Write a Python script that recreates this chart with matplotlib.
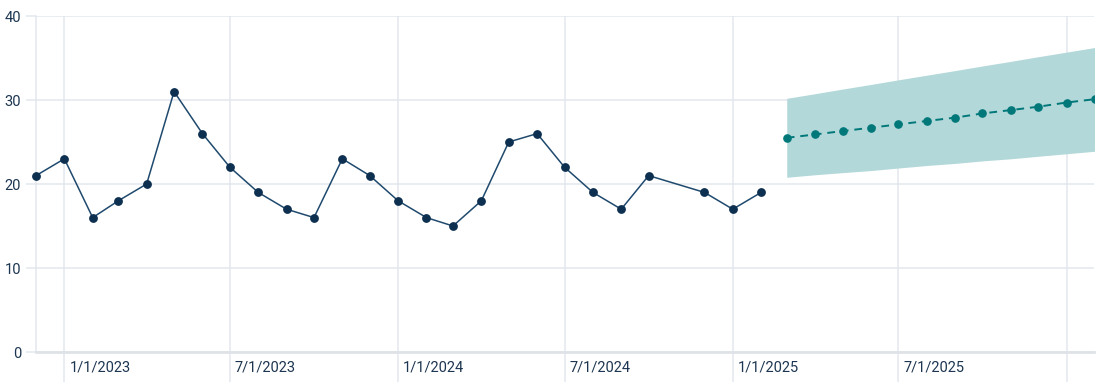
import matplotlib
matplotlib.use("Agg")
import matplotlib.pyplot as plt
import matplotlib.transforms as mtransforms
import pandas as pd

plt.rcParams['font.family'] = ['Roboto', 'DejaVu Sans']

hist_dates = ["2022-12-01", "2023-01-01", "2023-02-01", "2023-03-01", "2023-04-01",
              "2023-05-01", "2023-06-01", "2023-07-01", "2023-08-01", "2023-09-01",
              "2023-10-01", "2023-11-01", "2023-12-01", "2024-01-01", "2024-02-01",
              "2024-03-01", "2024-04-01", "2024-05-01", "2024-06-01", "2024-07-01",
              "2024-08-01", "2024-09-01", "2024-10-01", "2024-12-01", "2025-01-01",
              "2025-02-01"]
hist_values = [21, 23, 16, 18, 20, 31, 26, 22, 19, 17, 16, 23, 21, 18, 16, 15, 18,
               25, 26, 22, 19, 17, 21, 19, 17, 19]

fc_dates = ["2025-03-01", "2025-04-01", "2025-05-01", "2025-06-01", "2025-07-01",
            "2025-08-01", "2025-09-01", "2025-10-01", "2025-11-01", "2025-12-01",
            "2026-01-01", "2026-02-01"]
fc_values = [25.5, 25.9, 26.3, 26.7, 27.1, 27.5, 27.9, 28.4, 28.8, 29.2, 29.7, 30.1]
fc_upper = [30.2, 30.75, 31.3, 31.85, 32.4, 32.95, 33.5, 34.05, 34.6, 35.15, 35.7, 36.25]
fc_lower = [20.8, 21.1, 21.35, 21.6, 21.9, 22.2, 22.45, 22.75, 23.0, 23.3, 23.6, 23.9]

xtick_dates = ["2023-01-01", "2023-07-01", "2024-01-01", "2024-07-01", "2025-01-01",
               "2025-07-01", "2026-01-01"]
xtick_labels = ["1/1/2023", "7/1/2023", "1/1/2024", "7/1/2024", "1/1/2025",
                "7/1/2025", ""]
yticks = [0, 10, 20, 30, 40]

W, H, DPI = 1113, 387, 100
fig = plt.figure(figsize=(W / DPI, H / DPI), dpi=DPI)
ax = fig.add_axes([36 / W, 1 - 352 / H, (1094 - 36) / W, (352 - 16) / H])

grid_c = '#e3e7ec'
text_c = '#1c3550'
line_c = '#1f4a6e'
teal = '#00787a'

hd = pd.to_datetime(hist_dates)
fd = pd.to_datetime(fc_dates)

ax.fill_between(fd, fc_lower, fc_upper, color='#b3d8d9', linewidth=0, zorder=2)
ax.plot(fd, fc_values, color=teal, linestyle=(0, (4, 3)), linewidth=1.4,
        marker='o', markersize=5.2, zorder=3)
ax.plot(hd, hist_values, color=line_c, linewidth=1.1, marker='o', markersize=5.3,
        markerfacecolor='#0d2f50', markeredgecolor='#0d2f50', zorder=4, clip_on=False)

ax.set_xlim(pd.Timestamp("2022-12-01"), pd.Timestamp("2026-01-31"))
ax.set_ylim(0, 40)

ax.set_yticks(yticks)
ax.set_yticklabels([str(v) for v in yticks])
ax.set_xticks(pd.to_datetime(xtick_dates))
ax.set_xticklabels(xtick_labels)

ax.grid(True, color=grid_c, linewidth=1.1, zorder=0)
ax.set_axisbelow(True)
for s in ['top', 'right']:
    ax.spines[s].set_visible(False)
ax.spines['left'].set_color(grid_c)
ax.spines['left'].set_linewidth(1.1)
ax.spines['bottom'].set_color('#dfe3e8')
ax.spines['bottom'].set_linewidth(2.0)

px = 72 / DPI
ax.tick_params(axis='y', length=10 * px, width=1.1, color=grid_c, pad=5 * px,
               labelsize=10.5, labelcolor=text_c)
ax.tick_params(axis='x', length=30 * px, width=1.1, color=grid_c, pad=-22 * px,
               labelsize=10.5, labelcolor=text_c)

for lbl in ax.get_xticklabels():
    lbl.set_horizontalalignment('left')
    lbl.set_transform(lbl.get_transform() + mtransforms.ScaledTranslation(5 / DPI, 0, fig.dpi_scale_trans))

fig.savefig("out.png", dpi=DPI)
